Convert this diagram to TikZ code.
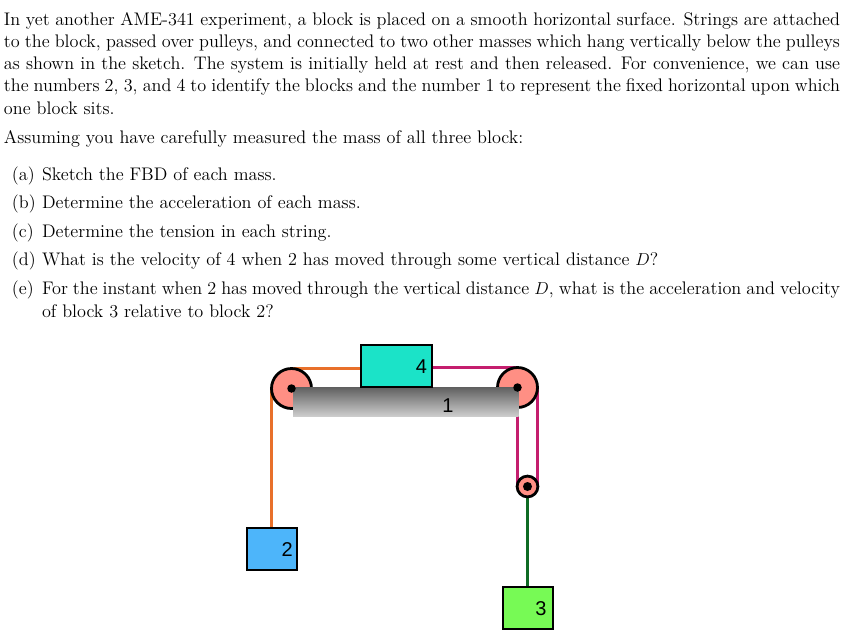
\documentclass[tikz,border=0pt]{standalone}
\usepackage{fontspec}
\setmainfont[Extension=.otf,BoldFont=lmroman12-bold,ItalicFont=lmroman12-italic]{lmroman12-regular}
\setsansfont{Liberation Sans}
\definecolor{cOrange}{HTML}{E8702A}
\definecolor{cMagenta}{HTML}{C41E6E}
\definecolor{cGreen}{HTML}{0F6B24}
\definecolor{cPulley}{HTML}{FF8F84}
\definecolor{cTeal}{HTML}{1BE3C8}
\definecolor{cBlue}{HTML}{4DB5FA}
\definecolor{cLime}{HTML}{77FA55}
\tikzset{
  txt/.style={anchor=base west,inner sep=0,outer sep=0,font=\fontsize{18.2}{22}\selectfont},
  blockbox/.style={draw=black,line width=1.6pt,inner sep=0,outer sep=0,minimum width=#1},
  pulley/.style={circle,draw=black,line width=2.8pt,fill=cPulley,inner sep=0,outer sep=0,minimum size=#1},
  pin/.style={circle,fill=black,inner sep=0,outer sep=0,minimum size=#1},
  numlabel/.style={inner sep=0,outer sep=0,font=\sffamily\fontsize{20}{22}\selectfont},
  rope/.style={line width=3.1pt,#1}
}
\begin{document}
\begin{tikzpicture}[x=1pt,y=-1pt]
\useasboundingbox (0,0) rectangle (855,641);
\fill[white] (0,0) rectangle (855,641);
% text
\node[txt] (l1) at (4,25) {\hbox to 836pt{In yet another AME-341 experiment, a block is placed on a smooth horizontal surface. Strings are attached}};
\node[txt] (l2) at (4,47) {\hbox to 836pt{to the block, passed over pulleys, and connected to two other masses which hang vertically below the pulleys}};
\node[txt] (l3) at (4,69) {\hbox to 836pt{as shown in the sketch. The system is initially held at rest and then released. For convenience, we can use}};
\node[txt] (l4) at (4,91.5) {\hbox to 836pt{the numbers 2, 3, and 4 to identify the blocks and the number 1 to represent the fixed horizontal upon which}};
\node[txt] (l5) at (4,114) {one block sits.};
\node[txt] (l6) at (4,143) {Assuming you have carefully measured the mass of all three block:};
\node[txt] (ia) at (12,180) {(a)};
\node[txt] (ta) at (42,180) {Sketch the FBD of each mass.};
\node[txt] (ib) at (12,208) {(b)};
\node[txt] (tb) at (42,208) {Determine the acceleration of each mass.};
\node[txt] (ic) at (12,237) {(c)};
\node[txt] (tc) at (42,237) {Determine the tension in each string.};
\node[txt] (id) at (12,265) {(d)};
\node[txt] (td) at (42,265) {What is the velocity of 4 when 2 has moved through some vertical distance $D$?};
\node[txt] (ie) at (12,294) {(e)};
\node[txt] (te) at (42,294) {\hbox to 798pt{For the instant when 2 has moved through the vertical distance $D$, what is the acceleration and velocity}};
\node[txt] (tf) at (42,317) {of block 3 relative to block 2?};
% named anchors (drawn later)
\path (291.5,388.5) node[circle,inner sep=0,outer sep=0,minimum size=40pt] (pA) {};
\path (517.5,387.5) node[circle,inner sep=0,outer sep=0,minimum size=40pt] (pB) {};
\path (527.5,486.5) node[circle,inner sep=0,outer sep=0,minimum size=20pt] (pC) {};
\path (396.5,366) node[minimum width=71pt,minimum height=42pt,inner sep=0,outer sep=0] (b4) {};
\path (272,549) node[minimum width=50pt,minimum height=42pt,inner sep=0,outer sep=0] (b2) {};
\path (528,608) node[minimum width=50pt,minimum height=42pt,inner sep=0,outer sep=0] (b3) {};
% strings
\draw[rope=cOrange] (b4.west |- pA.north) -- (pA.north);
\draw[rope=cOrange] (pA.west) -- (pA.west |- b2.north);
\draw[rope=cMagenta] (b4.east |- pB.north) -- (pB.north);
\draw[rope=cMagenta] (pB.east) -- (pB.east |- pC.east);
\draw[rope=cMagenta] (pB.center) -- (pB.center |- pC.west);
\draw[rope=cGreen] (pC.center) -- (pC.center |- b3.north);
% pulleys
\node[pulley=40pt] (pA2) at (pA) {};
\node[pulley=40pt] (pB2) at (pB) {};
\node[pulley=20.8pt] (pC2) at (pC) {};
% beam
\node[top color=black!62,bottom color=black!20,minimum width=225.5pt,minimum height=28.6pt,inner sep=0,outer sep=0] (beam) at (405.8,401.7) {};
\node[pin=8.5pt] (dA) at (pA) {};
\node[pin=8.5pt] (dB) at (pB) {};
\node[pin=9pt] (dC) at (pC) {};
% blocks
\node[blockbox=71pt,minimum height=42pt,fill=cTeal] (b4f) at (b4) {};
\node[blockbox=50pt,minimum height=42pt,fill=cBlue] (b2f) at (b2) {};
\node[blockbox=50pt,minimum height=42pt,fill=cLime] (b3f) at (b3) {};
\node[numlabel] (n4) at (421.5,366.5) {4};
\node[numlabel] (n1) at (448,406) {1};
\node[numlabel] (n2) at (287.3,549.5) {2};
\node[numlabel] (n3) at (541,609) {3};
\end{tikzpicture}
\end{document}
